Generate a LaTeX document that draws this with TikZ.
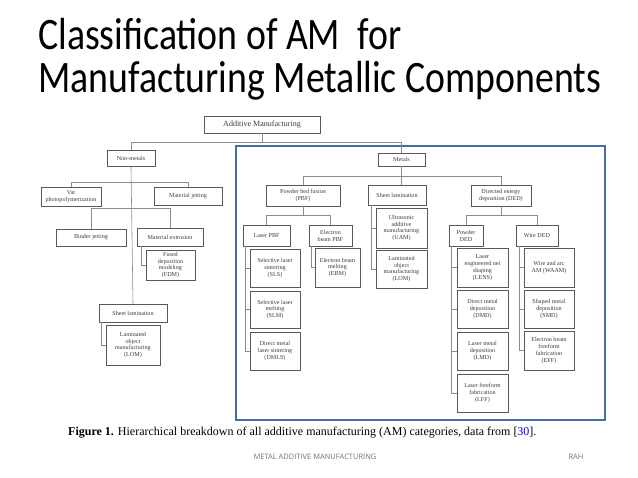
\documentclass[tikz,border=0pt]{standalone}
\usepackage{fontspec}
\setmainfont{Liberation Serif}
\newfontfamily\titlefont{Carlito}
\newfontfamily\footfont{Open Sans}
\usetikzlibrary{calc}
\definecolor{frameblue}{RGB}{68,110,170}
\definecolor{boxtext}{RGB}{60,60,60}
\tikzset{
  bx/.style={draw=black!65,line width=0.9pt,align=center,text=boxtext,inner sep=0.5pt,
    font=\fontsize{6.1}{6.9}\selectfont},
  cn/.style={draw=black!45,line width=0.6pt}
}
\newcommand\bx[6]{\node[bx,minimum width={(#4-#2)*1pt},minimum height={(#5-#3)*1pt}] (#1) at ({(#2+#4)/2},{(#3+#5)/2}) {#6};}
\begin{document}
\begin{tikzpicture}[x=1pt,y=-1pt]
\useasboundingbox (0,0) rectangle (638,478);
\fill[white] (0,0) rectangle (638,478);
% title
\node[anchor=base west,inner sep=0] (t1) at (38,50) {\titlefont\fontsize{45}{45}\selectfont\scalebox{0.84}[1]{Classification of AM\ \ for}};
\node[anchor=base west,inner sep=0] (t2) at (38,93) {\titlefont\fontsize{45}{45}\selectfont\scalebox{0.84}[1]{Manufacturing Metallic Components}};
% frame
\draw[frameblue,line width=2pt] (236,146) rectangle (605,420);
% boxes
\bx{am}{204}{116}{320}{133}{\fontsize{8}{9}\selectfont Additive Manufacturing}
\bx{nm}{107}{150}{155}{166}{Non-metals}
\bx{vat}{41}{187}{101}{206}{Vat\\photopolymerization}
\bx{mj}{154}{187}{222}{205}{Material jetting}
\bx{bj}{56}{229}{126}{246}{Binder jetting}
\bx{me}{137}{228}{203}{246}{Material extrusion}
\bx{fdm}{146}{250}{195}{280}{Fused\\deposition\\modeling\\(FDM)}
\bx{sla}{99}{304}{167}{322}{Sheet lamination}
\bx{loma}{106}{325}{160}{365}{Laminated\\object\\manufacturing\\(LOM)}
\bx{met}{378}{153}{425}{166}{Metals}
\bx{pbf}{266}{185}{340}{206}{Powder bed fusion\\(PBF)}
\bx{slb}{368}{185}{426}{205}{Sheet lamination}
\bx{ded}{471}{185}{531}{206}{Directed energy\\deposition (DED)}
\bx{uam}{376}{208}{427}{248}{Ultrasonic\\additive\\manufacturing\\(UAM)}
\bx{lomb}{376}{250}{427}{288}{Laminated\\object\\manufacturing\\(LOM)}
\bx{lpbf}{243}{225}{290}{246}{Laser PBF}
\bx{epbf}{309}{225}{352}{246}{Electron\\beam PBF}
\bx{sls}{250}{249}{300}{287}{Selective laser\\sintering\\(SLS)}
\bx{slm}{250}{291}{300}{328}{Selective laser\\melting\\(SLM)}
\bx{dmls}{250}{332}{300}{370}{Direct metal\\laser sintering\\(DMLS)}
\bx{ebm}{315}{248}{360}{287}{Electron beam\\melting\\(EBM)}
\bx{pded}{449}{225}{483}{246}{Powder\\DED}
\bx{wded}{516}{225}{558}{246}{Wire DED}
\bx{lens}{457}{248}{508}{287}{Laser\\engineered net\\shaping\\(LENS)}
\bx{dmd}{457}{290}{508}{328}{Direct metal\\deposition\\(DMD)}
\bx{lmd}{457}{332}{508}{370}{Laser metal\\deposition\\(LMD)}
\bx{lff}{457}{374}{508}{412}{Laser freeform\\fabrication\\(LFF)}
\bx{waam}{524}{248}{574}{287}{Wire and arc\\AM (WAAM)}
\bx{smd}{524}{290}{574}{328}{Shaped metal\\deposition\\(SMD)}
\bx{eff}{524}{331}{574}{370}{Electron beam\\freeform\\fabrication\\(EFF)}
% connectors
\draw[cn] (am.south) -- ++(0,9) coordinate (t);
\draw[cn] (nm.north) |- (t) -| (met.north);
\draw[cn] (nm.south) -- (sla.north);
\draw[cn] (vat.north) -- ++(0,-4) -| (mj.north);
\draw[cn] (bj.north) -- ++(0,-20) -| (me.north);
\draw[cn] ([xshift=5pt]me.south west) |- (fdm.west);
\draw[cn] ([xshift=3pt]sla.south west) |- (loma.west);
\draw[cn] (met.south) -- ++(0,10) coordinate (m);
\draw[cn] (pbf.north) |- (m) -| (ded.north);
\draw[cn] (m) -- (m |- slb.north);
\draw[cn] ([xshift=4pt]slb.south west) |- (uam.west);
\draw[cn] ([xshift=4pt]slb.south west) |- (lomb.west);
\draw[cn] (pbf.south) -- ++(0,9) coordinate (p);
\draw[cn] (lpbf.north) |- (p) -| (epbf.north);
\draw[cn] ([xshift=3pt]lpbf.south west) |- (sls.west);
\draw[cn] ([xshift=3pt]lpbf.south west) |- (slm.west);
\draw[cn] ([xshift=3pt]lpbf.south west) |- (dmls.west);
\draw[cn] ([xshift=3pt]epbf.south west) |- (ebm.west);
\draw[cn] (ded.south) -- ++(0,9) coordinate (d);
\draw[cn] (pded.north) |- (d) -| (wded.north);
\draw[cn] ([xshift=3pt]pded.south west) |- (lens.west);
\draw[cn] ([xshift=3pt]pded.south west) |- (dmd.west);
\draw[cn] ([xshift=3pt]pded.south west) |- (lmd.west);
\draw[cn] ([xshift=3pt]pded.south west) |- (lff.west);
\draw[cn] ([xshift=4pt]wded.south west) |- (waam.west);
\draw[cn] ([xshift=4pt]wded.south west) |- (smd.west);
\draw[cn] ([xshift=4pt]wded.south west) |- (eff.west);
% caption
\node[anchor=west,inner sep=0] (cap) at (68,433) {\fontsize{12}{13}\selectfont\textbf{Figure 1.} Hierarchical breakdown of all additive manufacturing (AM) categories, data from [\textcolor{blue}{30}].};
\node[inner sep=0,text=black!55] (ft) at (315,457) {\footfont\fontsize{7.5}{8}\selectfont METAL ADDITIVE MANUFACTURING};
\node[inner sep=0,text=black!55] (rah) at (576,457) {\footfont\fontsize{7.5}{8}\selectfont RAH};
\end{tikzpicture}
\end{document}
